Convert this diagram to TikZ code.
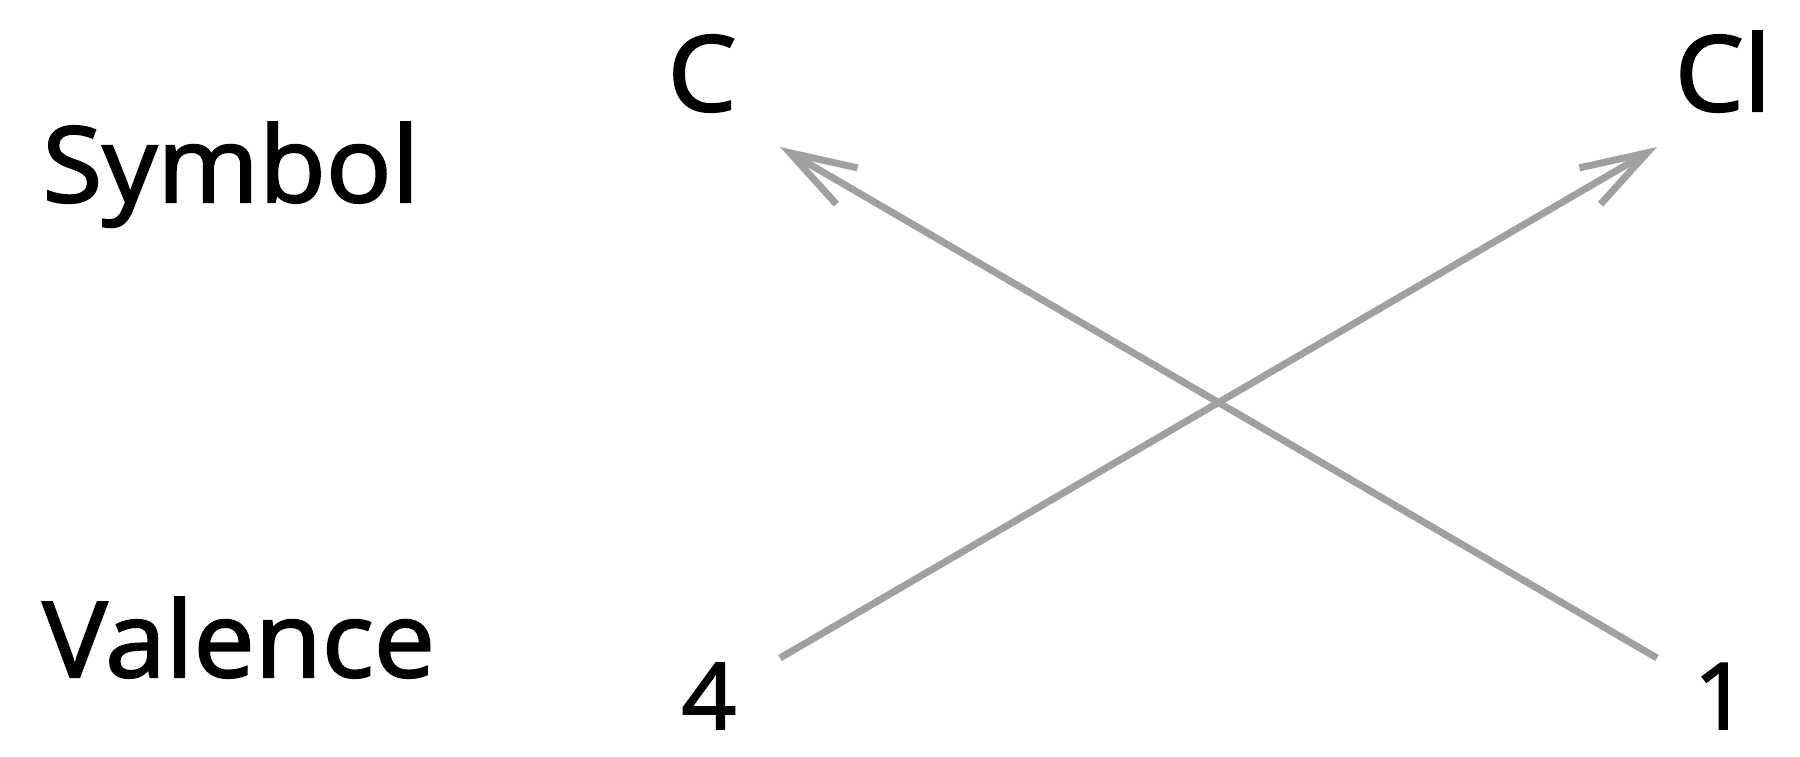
\documentclass[tikz,border=0pt]{standalone}
\usepackage{fontspec}
\setmainfont{Open Sans}[FakeBold=2,FakeStretch=1.04]
\usetikzlibrary{arrows.meta}
\definecolor{linkgray}{RGB}{160,160,160}

\begin{document}
\begin{tikzpicture}[x=0.5pt,y=-0.5pt]
    \tikzstyle{heading}=[anchor=base west,inner sep=0pt,font=\fontsize{52.5}{60}\selectfont]
    \tikzstyle{element}=[anchor=base,inner sep=0pt,font=\fontsize{52.5}{60}\selectfont]
    \tikzstyle{valence}=[anchor=base,inner sep=0pt,font=\fontsize{46}{55}\selectfont]
    \tikzstyle{link}=[draw=linkgray,line width=3.5pt,-{Straight Barb[length=33pt,width=21pt]}]

    \useasboundingbox (0,0) rectangle (1800,756);

    % Draw the row headings
    \node[heading] (sym) at (42,202) {Symbol};
    \node[heading] (val) at (42,677) {Valence};

    % Draw the element symbols
    \node[element] (C) at (702,111) {C};
    \node[element] (Cl) at (1723,111) {Cl};

    % Draw the valences under them
    \node[valence] (V-C) at (709,729) {4};
    \node[valence] (V-Cl) at (1721,729) {1};

    % Ends of the crossing links
    \coordinate (V-C-out) at (780,658);
    \coordinate (V-Cl-out) at (1657,658);
    \coordinate (C-in) at (780,147);
    \coordinate (Cl-in) at (1657,147);

    % Connect every valence with the other element
    \path[link] (V-C-out) -- (Cl-in);
    \path[link] (V-Cl-out) -- (C-in);
\end{tikzpicture}
\end{document}
